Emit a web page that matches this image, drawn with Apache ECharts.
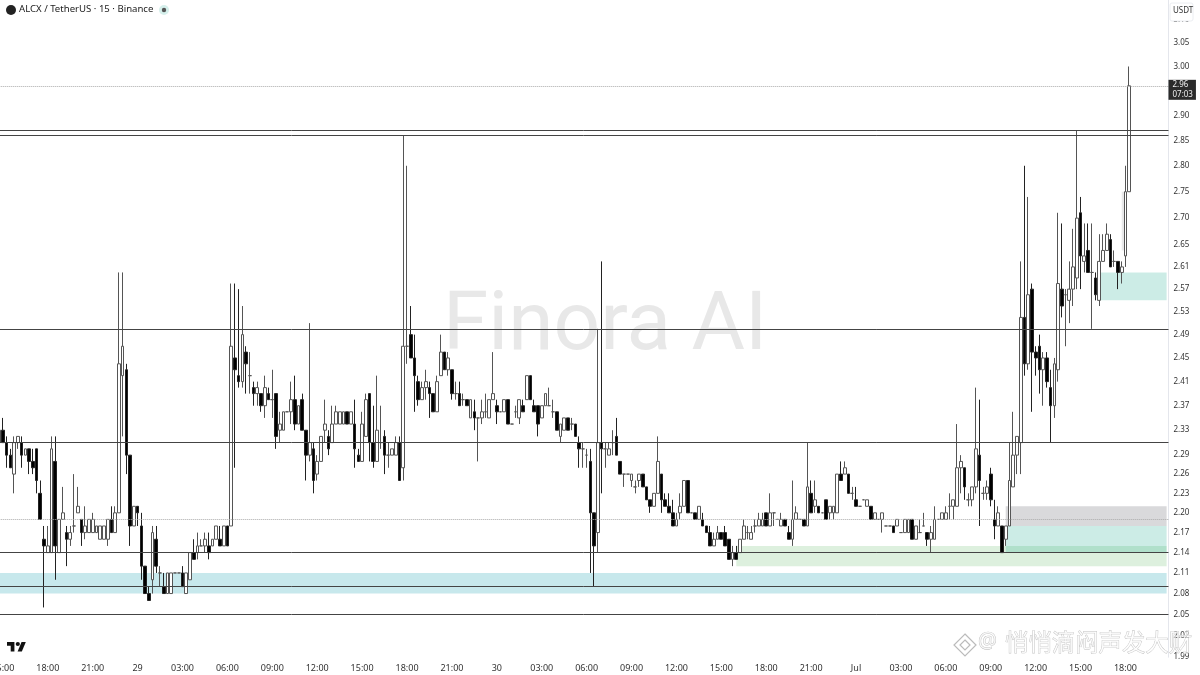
<!DOCTYPE html>
<html><head><meta charset="utf-8">
<style>html,body{margin:0;padding:0;background:#fff}#c{width:1200px;height:675px}</style>
<script src="https://cdn.jsdelivr.net/npm/echarts@6/dist/echarts.min.js"></script>
</head><body><div id="c"></div>
<script>
// rows are [open, close, low, high], 15-minute candles
const ohlcJun28 = [
[2.31,2.33,2.29,2.36],[2.33,2.31,2.31,2.35],[2.31,2.29,2.27,2.32],[2.29,2.27,2.27,2.30],[2.26,2.31,2.23,2.32],
[2.31,2.32,2.30,2.32],[2.31,2.29,2.27,2.32],[2.29,2.30,2.29,2.30],[2.30,2.28,2.26,2.30],[2.28,2.27,2.26,2.30],
[2.30,2.25,2.23,2.30],[2.23,2.19,2.19,2.25],[2.16,2.15,2.06,2.18],[2.14,2.15,2.14,2.18],[2.14,2.30,2.14,2.32],
[2.28,2.15,2.10,2.32],[2.14,2.19,2.14,2.19],[2.19,2.20,2.19,2.24],[2.17,2.16,2.12,2.18],[2.16,2.17,2.15,2.18],
[2.18,2.18,2.17,2.26],[2.20,2.21,2.20,2.24],[2.19,2.17,2.15,2.19],[2.17,2.18,2.16,2.21],[2.17,2.19,2.17,2.19],
[2.17,2.19,2.17,2.20],[2.17,2.18,2.17,2.18],[2.16,2.18,2.16,2.18],[2.16,2.18,2.16,2.18],[2.16,2.19,2.15,2.19],
[2.19,2.17,2.17,2.21],[2.17,2.20,2.17,2.21],[2.20,2.44,2.20,2.60],[2.42,2.47,2.32,2.60],[2.43,2.29,2.26,2.44],
[2.29,2.18,2.15,2.29],[2.18,2.21,2.18,2.21]];
const ohlcJun29 = [
[2.21,2.20,2.18,2.21],[2.18,2.12,2.10,2.20],[2.12,2.08,2.08,2.12],[2.08,2.07,2.07,2.09],[2.10,2.17,2.08,2.18],
[2.16,2.12,2.11,2.18],[2.11,2.11,2.09,2.12],[2.09,2.08,2.08,2.11],[2.08,2.11,2.08,2.11],[2.08,2.11,2.08,2.11],
[2.11,2.11,2.11,2.11],[2.11,2.11,2.11,2.11],[2.11,2.09,2.09,2.12],[2.08,2.11,2.08,2.11],[2.10,2.14,2.10,2.14],
[2.14,2.13,2.13,2.16],[2.14,2.15,2.13,2.17],[2.15,2.15,2.15,2.16],[2.15,2.16,2.14,2.17],[2.15,2.14,2.13,2.17],
[2.15,2.16,2.15,2.16],[2.16,2.18,2.16,2.18],[2.16,2.15,2.15,2.18],[2.15,2.18,2.15,2.18],[2.18,2.15,2.15,2.18],
[2.18,2.47,2.18,2.58],[2.45,2.43,2.27,2.58],[2.42,2.41,2.40,2.57],[2.41,2.49,2.40,2.54],[2.46,2.44,2.39,2.47],
[2.42,2.42,2.39,2.46],[2.40,2.39,2.37,2.41],[2.39,2.40,2.37,2.41],[2.39,2.37,2.36,2.39],[2.37,2.40,2.35,2.42],
[2.39,2.38,2.38,2.40],[2.38,2.38,2.35,2.43],[2.39,2.32,2.30,2.39],[2.33,2.34,2.31,2.36],[2.33,2.36,2.33,2.36],
[2.36,2.36,2.36,2.36],[2.36,2.38,2.34,2.41],[2.38,2.34,2.33,2.42],[2.34,2.37,2.34,2.37],[2.38,2.33,2.33,2.39],
[2.33,2.29,2.25,2.33],[2.29,2.31,2.28,2.51],[2.30,2.25,2.23,2.31],[2.26,2.28,2.25,2.29],[2.28,2.32,2.28,2.32],
[2.33,2.34,2.31,2.38],[2.32,2.30,2.29,2.33],[2.31,2.34,2.31,2.37],[2.34,2.36,2.34,2.37],[2.34,2.36,2.34,2.36],
[2.34,2.36,2.34,2.36],[2.36,2.34,2.34,2.36],[2.34,2.36,2.34,2.36],[2.34,2.30,2.27,2.38],[2.29,2.28,2.28,2.30],
[2.28,2.34,2.28,2.36],[2.32,2.38,2.32,2.39],[2.39,2.31,2.28,2.39],[2.31,2.28,2.27,2.37],[2.28,2.33,2.28,2.42],
[2.31,2.31,2.30,2.37],[2.32,2.29,2.26,2.33],[2.29,2.29,2.27,2.31],[2.29,2.30,2.29,2.30],[2.29,2.31,2.29,2.32],
[2.31,2.25,2.25,2.32],[2.27,2.47,2.25,2.86],[2.47,2.47,2.44,2.80],[2.49,2.45,2.45,2.54],[2.45,2.42,2.36,2.49],
[2.41,2.38,2.37,2.42],[2.38,2.40,2.38,2.41],[2.40,2.41,2.38,2.43],[2.40,2.39,2.35,2.41],[2.39,2.36,2.36,2.39],
[2.36,2.41,2.36,2.42],[2.42,2.46,2.42,2.49],[2.46,2.43,2.43,2.46],[2.43,2.45,2.42,2.46],[2.43,2.39,2.38,2.43],
[2.39,2.39,2.38,2.41],[2.39,2.37,2.37,2.41],[2.38,2.38,2.37,2.39],[2.38,2.37,2.37,2.38],[2.35,2.38,2.35,2.38],
[2.36,2.35,2.33,2.38],[2.35,2.35,2.28,2.35],[2.35,2.36,2.34,2.38],[2.36,2.36,2.35,2.39],[2.35,2.38,2.35,2.38],
[2.38,2.39,2.38,2.46]];
const ohlcJun30 = [
[2.37,2.36,2.34,2.38],[2.36,2.36,2.36,2.36],[2.36,2.38,2.36,2.38],[2.38,2.34,2.34,2.38],[2.34,2.34,2.34,2.34],
[2.36,2.36,2.35,2.37],[2.35,2.38,2.34,2.38],[2.37,2.36,2.36,2.38],[2.38,2.42,2.38,2.42],[2.42,2.38,2.38,2.42],
[2.37,2.36,2.36,2.38],[2.37,2.34,2.32,2.37],[2.35,2.37,2.35,2.37],[2.37,2.39,2.37,2.39],[2.37,2.37,2.37,2.40],
[2.36,2.36,2.35,2.38],[2.36,2.33,2.33,2.36],[2.32,2.34,2.31,2.34],[2.33,2.35,2.33,2.35],[2.35,2.33,2.33,2.35],
[2.34,2.34,2.33,2.35],[2.34,2.32,2.32,2.34],[2.31,2.30,2.27,2.32],[2.30,2.30,2.27,2.31],[2.29,2.29,2.27,2.30],
[2.28,2.20,2.11,2.30],[2.20,2.15,2.09,2.20],[2.17,2.31,2.14,2.50],[2.31,2.30,2.23,2.62],[2.30,2.30,2.27,2.31],
[2.29,2.30,2.29,2.31],[2.31,2.31,2.29,2.33],[2.32,2.29,2.29,2.35],[2.28,2.26,2.26,2.28],[2.26,2.26,2.24,2.26],
[2.26,2.26,2.26,2.26],[2.25,2.26,2.24,2.26],[2.24,2.24,2.23,2.25],[2.25,2.26,2.24,2.26],[2.26,2.24,2.24,2.26],
[2.24,2.22,2.22,2.24],[2.22,2.21,2.20,2.22],[2.21,2.23,2.21,2.23],[2.23,2.28,2.23,2.32],[2.26,2.22,2.20,2.26],
[2.22,2.21,2.21,2.23],[2.21,2.20,2.20,2.23],[2.20,2.18,2.18,2.22],[2.18,2.19,2.18,2.20],[2.20,2.21,2.19,2.23],
[2.21,2.25,2.21,2.25],[2.25,2.20,2.20,2.25],[2.20,2.20,2.20,2.20],[2.20,2.19,2.19,2.20],[2.19,2.21,2.19,2.21],
[2.19,2.18,2.18,2.20],[2.18,2.17,2.17,2.18],[2.17,2.15,2.15,2.18],[2.15,2.16,2.15,2.17],[2.16,2.17,2.16,2.18],
[2.17,2.16,2.16,2.17],[2.17,2.15,2.15,2.18],[2.16,2.13,2.13,2.16],[2.13,2.14,2.12,2.15],[2.14,2.13,2.13,2.15],
[2.14,2.16,2.14,2.16],[2.16,2.18,2.16,2.19],[2.17,2.17,2.16,2.18],[2.16,2.17,2.16,2.18],[2.18,2.18,2.17,2.19],
[2.18,2.19,2.18,2.20],[2.18,2.19,2.18,2.20],[2.20,2.18,2.18,2.20],[2.18,2.20,2.18,2.23],[2.20,2.20,2.18,2.20],
[2.19,2.19,2.19,2.19],[2.18,2.19,2.18,2.20],[2.19,2.18,2.18,2.19],[2.17,2.16,2.16,2.18],[2.16,2.19,2.15,2.25],
[2.19,2.20,2.19,2.21],[2.19,2.19,2.19,2.19],[2.19,2.18,2.18,2.19],[2.18,2.24,2.18,2.31],[2.23,2.20,2.20,2.25],
[2.21,2.22,2.20,2.25],[2.21,2.20,2.20,2.21],[2.20,2.20,2.20,2.20],[2.22,2.19,2.19,2.22],[2.20,2.21,2.19,2.21],
[2.20,2.21,2.19,2.21],[2.20,2.26,2.20,2.26],[2.26,2.25,2.25,2.28],[2.26,2.27,2.26,2.28],[2.26,2.23,2.23,2.26],
[2.23,2.23,2.22,2.24]];
const ohlcJul1 = [
[2.22,2.21,2.21,2.24],[2.21,2.21,2.21,2.21],[2.22,2.22,2.22,2.22],[2.21,2.22,2.21,2.22],[2.21,2.19,2.19,2.21],
[2.19,2.20,2.19,2.20],[2.19,2.19,2.19,2.19],[2.19,2.20,2.17,2.20],[2.18,2.18,2.18,2.18],[2.18,2.18,2.18,2.18],
[2.18,2.17,2.17,2.18],[2.18,2.19,2.18,2.19],[2.17,2.17,2.17,2.17],[2.17,2.19,2.17,2.19],[2.17,2.19,2.17,2.19],
[2.19,2.16,2.16,2.19],[2.16,2.18,2.16,2.18],[2.17,2.17,2.17,2.19],[2.18,2.18,2.18,2.20],[2.17,2.16,2.15,2.17],
[2.16,2.17,2.14,2.18],[2.16,2.19,2.16,2.21],[2.19,2.19,2.19,2.19],[2.19,2.20,2.19,2.20],[2.19,2.20,2.19,2.21],
[2.21,2.21,2.19,2.23],[2.21,2.22,2.19,2.22],[2.21,2.27,2.21,2.34],[2.27,2.28,2.23,2.29],[2.27,2.24,2.22,2.27],
[2.22,2.22,2.21,2.23],[2.22,2.24,2.21,2.24],[2.24,2.30,2.23,2.40],[2.29,2.25,2.18,2.38],[2.23,2.23,2.22,2.24],
[2.23,2.24,2.22,2.25],[2.26,2.22,2.21,2.27],[2.19,2.18,2.16,2.22],[2.18,2.20,2.18,2.21],[2.18,2.14,2.14,2.18],
[2.16,2.18,2.15,2.18],[2.18,2.25,2.18,2.31],[2.24,2.29,2.24,2.36],[2.29,2.32,2.26,2.32],[2.31,2.52,2.26,2.62],
[2.52,2.44,2.42,2.80],[2.44,2.56,2.43,2.74],[2.57,2.46,2.36,2.58],[2.46,2.45,2.42,2.47],[2.47,2.43,2.39,2.49],
[2.43,2.45,2.37,2.46],[2.45,2.41,2.40,2.46],[2.40,2.37,2.31,2.43],[2.37,2.44,2.35,2.45],[2.43,2.58,2.41,2.71],
[2.57,2.54,2.52,2.69],[2.56,2.56,2.47,2.57],[2.55,2.57,2.51,2.62],[2.57,2.61,2.54,2.68],[2.59,2.70,2.57,2.87],
[2.71,2.63,2.57,2.74],[2.62,2.63,2.60,2.69],[2.64,2.60,2.60,2.69],[2.60,2.60,2.50,2.69],[2.59,2.56,2.55,2.60],
[2.55,2.62,2.54,2.67],[2.62,2.64,2.62,2.67],[2.64,2.67,2.64,2.69],[2.66,2.61,2.61,2.67],[2.62,2.62,2.61,2.64],
[2.62,2.60,2.57,2.62],[2.60,2.61,2.58,2.62],[2.63,2.75,2.61,2.80],[2.75,2.96,2.75,3.00]];

const yTickLabels = [3.10,3.05,3.00,2.90,2.85,2.80,2.75,2.70,2.65,2.61,2.57,2.53,2.49,2.45,2.41,2.37,2.33,2.29,2.26,2.23,2.20,2.17,2.14,2.11,2.08,2.05,2.02,1.99];
const solidLevels = [2.868,2.861,2.50,2.31,2.14,2.09,2.05];
const dottedLevels = [2.19];
const lastPrice = 2.96;
const countdown = '07:03';

const candles = [...ohlcJun28, ...ohlcJun29, ...ohlcJun30, ...ohlcJul1];
const slotCount = 313;
const dayNames = {1:'29',2:'30',3:'Jul'};
const categories = [];
for (let k = 0; k < slotCount; k++) {
  const mins = 14*60 + 45 + k*15, day = Math.floor(mins/1440), m = mins % 1440;
  const hh = String(Math.floor(m/60)).padStart(2,'0'), mm = String(m%60).padStart(2,'0');
  categories.push(m === 0 && dayNames[day] ? dayNames[day] : hh + ':' + mm);
}
const seriesData = categories.map((c,k) => candles[k] || '-');
const last = slotCount - 1;
// zones: [first slot, last slot, top price, bottom price, colour]
const zones = [
  [0, last, 2.11, 2.08, 'rgba(0,151,167,0.22)'],
  [197, last, 2.15, 2.12, 'rgba(120,195,125,0.25)'],
  [269, last, 2.18, 2.14, 'rgba(0,160,130,0.2)'],
  [269, last, 2.21, 2.18, 'rgba(150,150,155,0.36)'],
  [294, last, 2.60, 2.55, 'rgba(0,160,130,0.2)'],
  [300, 301, 2.75, 2.64, 'rgba(150,150,155,0.22)']
];

const font = '"Noto Sans", sans-serif';
const chart = echarts.init(document.getElementById('c'), null, {renderer:'canvas'});
const logoPt = (x,y)=>[7+x*0.53, 639.8+y*0.53];
chart.setOption({
  animation:false,
  backgroundColor:'#fff',
  grid:{left:-2.71, width:1171.2, top:0.4, height:656.8, containLabel:false, outerBoundsMode:'none'},
  xAxis:{type:'category', data:categories, boundaryGap:true,
    axisLine:{show:false}, axisTick:{show:false}, splitLine:{show:false},
    axisLabel:{color:'#333', fontSize:9, fontFamily:font, margin:7, hideOverlap:false,
      interval:(i,v)=>{ if(!v.includes(':')) return true; const [h,m]=v.split(':'); return m==='00' && (+h)%3===0; }}},
  yAxis:{type:'log', logBase:10, position:'right', min:1.99, max:3.141,
    axisLine:{show:true, lineStyle:{color:'#e4e6ec', width:1}},
    axisTick:{show:false}, splitLine:{show:false}, minorTick:{show:false}, minorSplitLine:{show:false},
    axisLabel:{color:'#333', fontSize:8, fontFamily:font, margin:5, customValues:yTickLabels, align:'left',
      formatter:v=>(+v).toFixed(2)}},
  series:[
    {type:'line', name:'zones', data:[], z:1, silent:true,
      markArea:{silent:true, data:zones.map(z=>[
        {coord:[z[0],z[2]], itemStyle:{color:z[4]}}, {coord:[z[1],z[3]]}])}},
    {type:'candlestick', name:'ALCX', data:seriesData, z:2, barWidth:3.2,
      itemStyle:{color:'#fff', color0:'#000', borderColor:'#555', borderColor0:'#222', borderColorDoji:'#555', borderWidth:1}},
    {type:'line', name:'levels', data:[], z:3, silent:true,
      markLine:{silent:true, symbol:'none', animation:false,
        data:[
          ...solidLevels.map(v=>({yAxis:v, label:{show:false}, lineStyle:{color:'#444', width:1, type:'solid'}})),
          ...dottedLevels.map(v=>({yAxis:v, label:{show:false}, lineStyle:{color:'#aaa', width:1, type:'dotted'}})),
          {yAxis:lastPrice, lineStyle:{color:'#aaa', width:1, type:'dotted'},
            label:{show:true, position:'end', distance:0, offset:[0,4], formatter:lastPrice.toFixed(2)+'\n'+countdown,
              backgroundColor:'#2b2b2b', color:'#eee', fontSize:8, lineHeight:9.5, padding:[1,3,0,4], align:'left', fontFamily:font}}
        ]}}
  ],
  graphic:[
    {type:'text', z:0, x:443, y:287, style:{text:'Finora AI', fontSize:82, fontFamily:'Roboto', fontWeight:400, fill:'#e8e8e8'}},
    {type:'circle', z:10, shape:{cx:11,cy:10,r:5}, style:{fill:'#222'}},
    {type:'text', z:10, x:19, y:4, style:{text:'ALCX / TetherUS · 15 · Binance', fontSize:9.6, fontFamily:font, fill:'#222'}},
    {type:'circle', z:10, shape:{cx:164,cy:10,r:5}, style:{fill:'#d5efeb'}},
    {type:'circle', z:10, shape:{cx:164,cy:10,r:2.2}, style:{fill:'#555'}},
    {type:'rect', z:10, shape:{x:1170,y:3,width:23,height:18,r:2}, style:{fill:'#fff',stroke:'#eceef2',lineWidth:1}},
    {type:'text', z:11, x:1173, y:7, style:{text:'USDT', fontSize:8, fontFamily:font, fill:'#333'}},
    {type:'polygon', z:10, shape:{points:[[14,22],[7,22],[7,11],[0,11],[0,4],[14,4]].map(p=>logoPt(p[0],p[1]))}, style:{fill:'#111'}},
    {type:'polygon', z:10, shape:{points:[[28,22],[20,22],[27.5,4],[35.5,4]].map(p=>logoPt(p[0],p[1]))}, style:{fill:'#111'}},
    {type:'circle', z:10, shape:{cx:17.8,cy:644,r:2.1}, style:{fill:'#111'}},
    {type:'polygon', z:12, shape:{points:[[965,634],[976,645],[965,656],[954,645]]}, style:{fill:'rgba(255,255,255,0.5)',stroke:'#bbb',lineWidth:1.2}},
    {type:'polygon', z:12, shape:{points:[[965,640],[970,645],[965,650],[960,645]]}, style:{fill:'#fff',stroke:'#bbb',lineWidth:1.2}},
    {type:'text', z:12, x:978, y:632, style:{text:'@', fontSize:21, fontFamily:font, fill:'rgba(255,255,255,0.6)', stroke:'#bbb', lineWidth:0.7}},
    {type:'text', z:12, x:1005, y:630, style:{text:'悄悄滴闷声发大财', fontSize:23.4, fontFamily:'"Noto Sans CJK SC"', fill:'rgba(255,255,255,0.6)', stroke:'#bbb', lineWidth:0.6}}
  ]
});
</script></body></html>
